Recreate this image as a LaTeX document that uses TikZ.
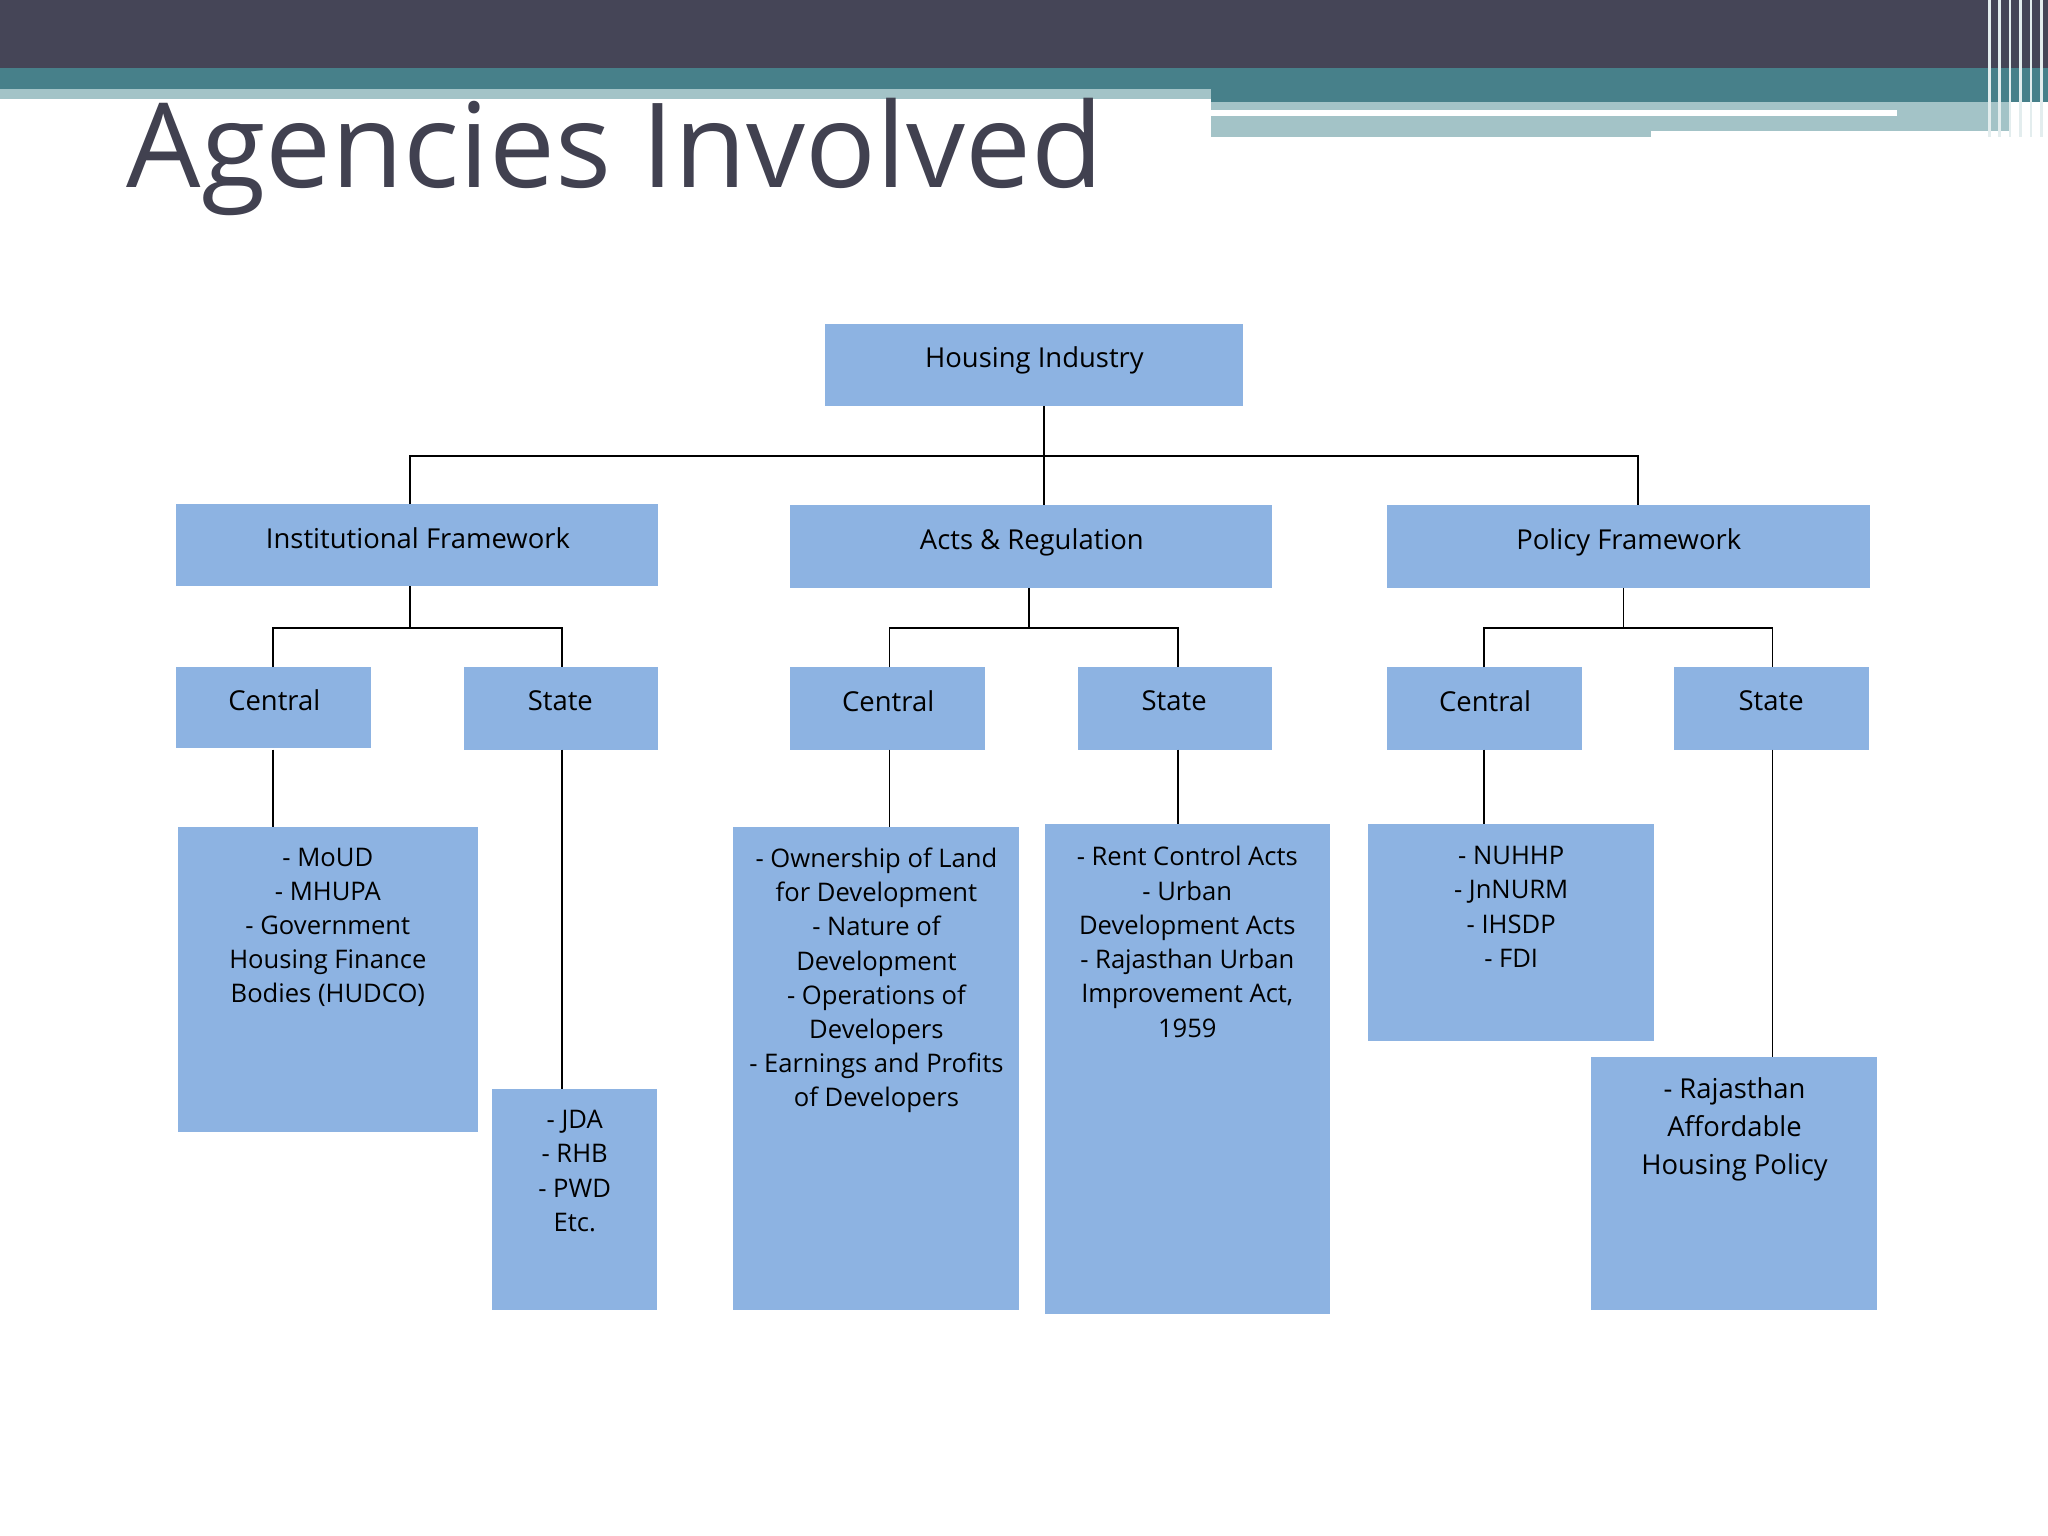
\documentclass[tikz,border=0pt]{standalone}
\usepackage{fontspec}
\setmainfont{Open Sans}
\begin{document}
\begin{tikzpicture}[x=0.5pt,y=-0.5pt,
 box/.style={draw=none,fill=boxc,inner sep=0pt,anchor=north west},
 lbl/.style={font=\fontsize{10.5}{13}\selectfont,align=center,anchor=north},
 itm/.style={font=\fontsize{9.8}{13.1}\selectfont,align=center,anchor=north},
 ln/.style={draw=black,line width=0.7pt}]
\definecolor{boxc}{HTML}{8DB3E2}
\definecolor{dark}{HTML}{454557}
\definecolor{teal}{HTML}{47808A}
\definecolor{lite}{HTML}{A3C3C7}
\definecolor{ttl}{HTML}{414150}
\useasboundingbox (0,0) rectangle (1568,1176);
\fill[white] (0,0) rectangle (1568,1176);
% header
\fill[dark] (0,0) rectangle (1568,52);
\fill[teal] (0,52) rectangle (1568,68);
\fill[lite] (0,68) rectangle (927,76);
\fill[teal] (927,68) rectangle (1568,78);
\fill[lite] (927,78) rectangle (1540,105);
\fill[white] (927,84) rectangle (1452,89);
\fill[white] (1264,100) rectangle (1540,106);
\foreach \x in {1522,1530,1538,1546,1554,1562}{\fill[white!70!lite] (\x,0) rectangle (\x+2,105);}
\node[anchor=west,text=ttl,font=\fontsize{45}{50}\selectfont] (title) at (90,120) {Agencies Involved};
% boxes
\newcommand{\bx}[5]{\path[fill=boxc] (#2,#3) rectangle (#4,#5); \coordinate (#1n) at ({(#2+#4)/2},#3); \coordinate (#1s) at ({(#2+#4)/2},#5);}
\bx{hi}{632}{248}{952}{311}
\bx{inf}{135}{386}{504}{449}
\bx{act}{605}{387}{974}{450}
\bx{pol}{1062}{387}{1432}{450}
\bx{c1}{135}{511}{284}{573}
\bx{s1}{355}{511}{504}{574}
\bx{c2}{605}{511}{754}{574}
\bx{s2}{825}{511}{974}{574}
\bx{c3}{1062}{511}{1211}{574}
\bx{s3}{1282}{511}{1431}{574}
\bx{d1}{136}{633}{366}{867}
\bx{d2}{377}{834}{503}{1003}
\bx{d3}{561}{633}{780}{1003}
\bx{d4}{800}{631}{1018}{1006}
\bx{d5}{1047}{631}{1266}{797}
\bx{d6}{1218}{809}{1437}{1003}
\node[lbl] (thi) at (792,258) {Housing Industry};
\node[lbl] (tinf) at (320,397) {Institutional Framework};
\node[lbl] (tact) at (790,398) {Acts \& Regulation};
\node[lbl] (tpol) at (1247,398) {Policy Framework};
\node[lbl] (tc1) at (210,521) {Central};
\node[lbl] (ts1) at (429,522) {State};
\node[lbl] (tc2) at (680,522) {Central};
\node[lbl] (ts2) at (899,522) {State};
\node[lbl] (tc3) at (1137,522) {Central};
\node[lbl] (ts3) at (1356,522) {State};
\node[itm] (td1) at (251,642) {- MoUD\\- MHUPA\\- Government\\Housing Finance\\Bodies (HUDCO)};
\node[itm] (td2) at (440,843) {- JDA\\- RHB\\- PWD\\Etc.};
\node[itm] (td3) at (671,642) {- Ownership of Land\\for Development\\- Nature of\\Development\\- Operations of\\Developers\\- Earnings and Profits\\of Developers};
\node[itm] (td4) at (909,641) {- Rent Control Acts\\- Urban\\Development Acts\\- Rajasthan Urban\\Improvement Act,\\1959};
\node[itm] (td5) at (1157,641) {- NUHHP\\- JnNURM\\- IHSDP\\- FDI};
\node[itm,font=\fontsize{10.5}{14.5}\selectfont] (td6) at (1328,818) {- Rajasthan\\Affordable\\Housing Policy};
% connectors
\draw[ln] (799,311) -- (799,349);
\draw[ln] (314,386) -- (314,349) -- (1254,349) -- (1254,387);
\draw[ln] (799,349) -- (799,387);
\draw[ln] (314,449) -- (314,481);
\draw[ln] (209,511) -- (209,481) -- (430,481) -- (430,511);
\draw[ln] (788,450) -- (788,481);
\draw[ln] (681,511) -- (681,481) -- (902,481) -- (902,511);
\draw[ln] (1243,450) -- (1243,481);
\draw[ln] (1136,511) -- (1136,481) -- (1357,481) -- (1357,511);
\draw[ln] (209,574) -- (209,633);
\draw[ln] (430,574) -- (430,834);
\draw[ln] (681,574) -- (681,633);
\draw[ln] (902,574) -- (902,631);
\draw[ln] (1136,574) -- (1136,631);
\draw[ln] (1357,574) -- (1357,809);
\end{tikzpicture}
\end{document}
